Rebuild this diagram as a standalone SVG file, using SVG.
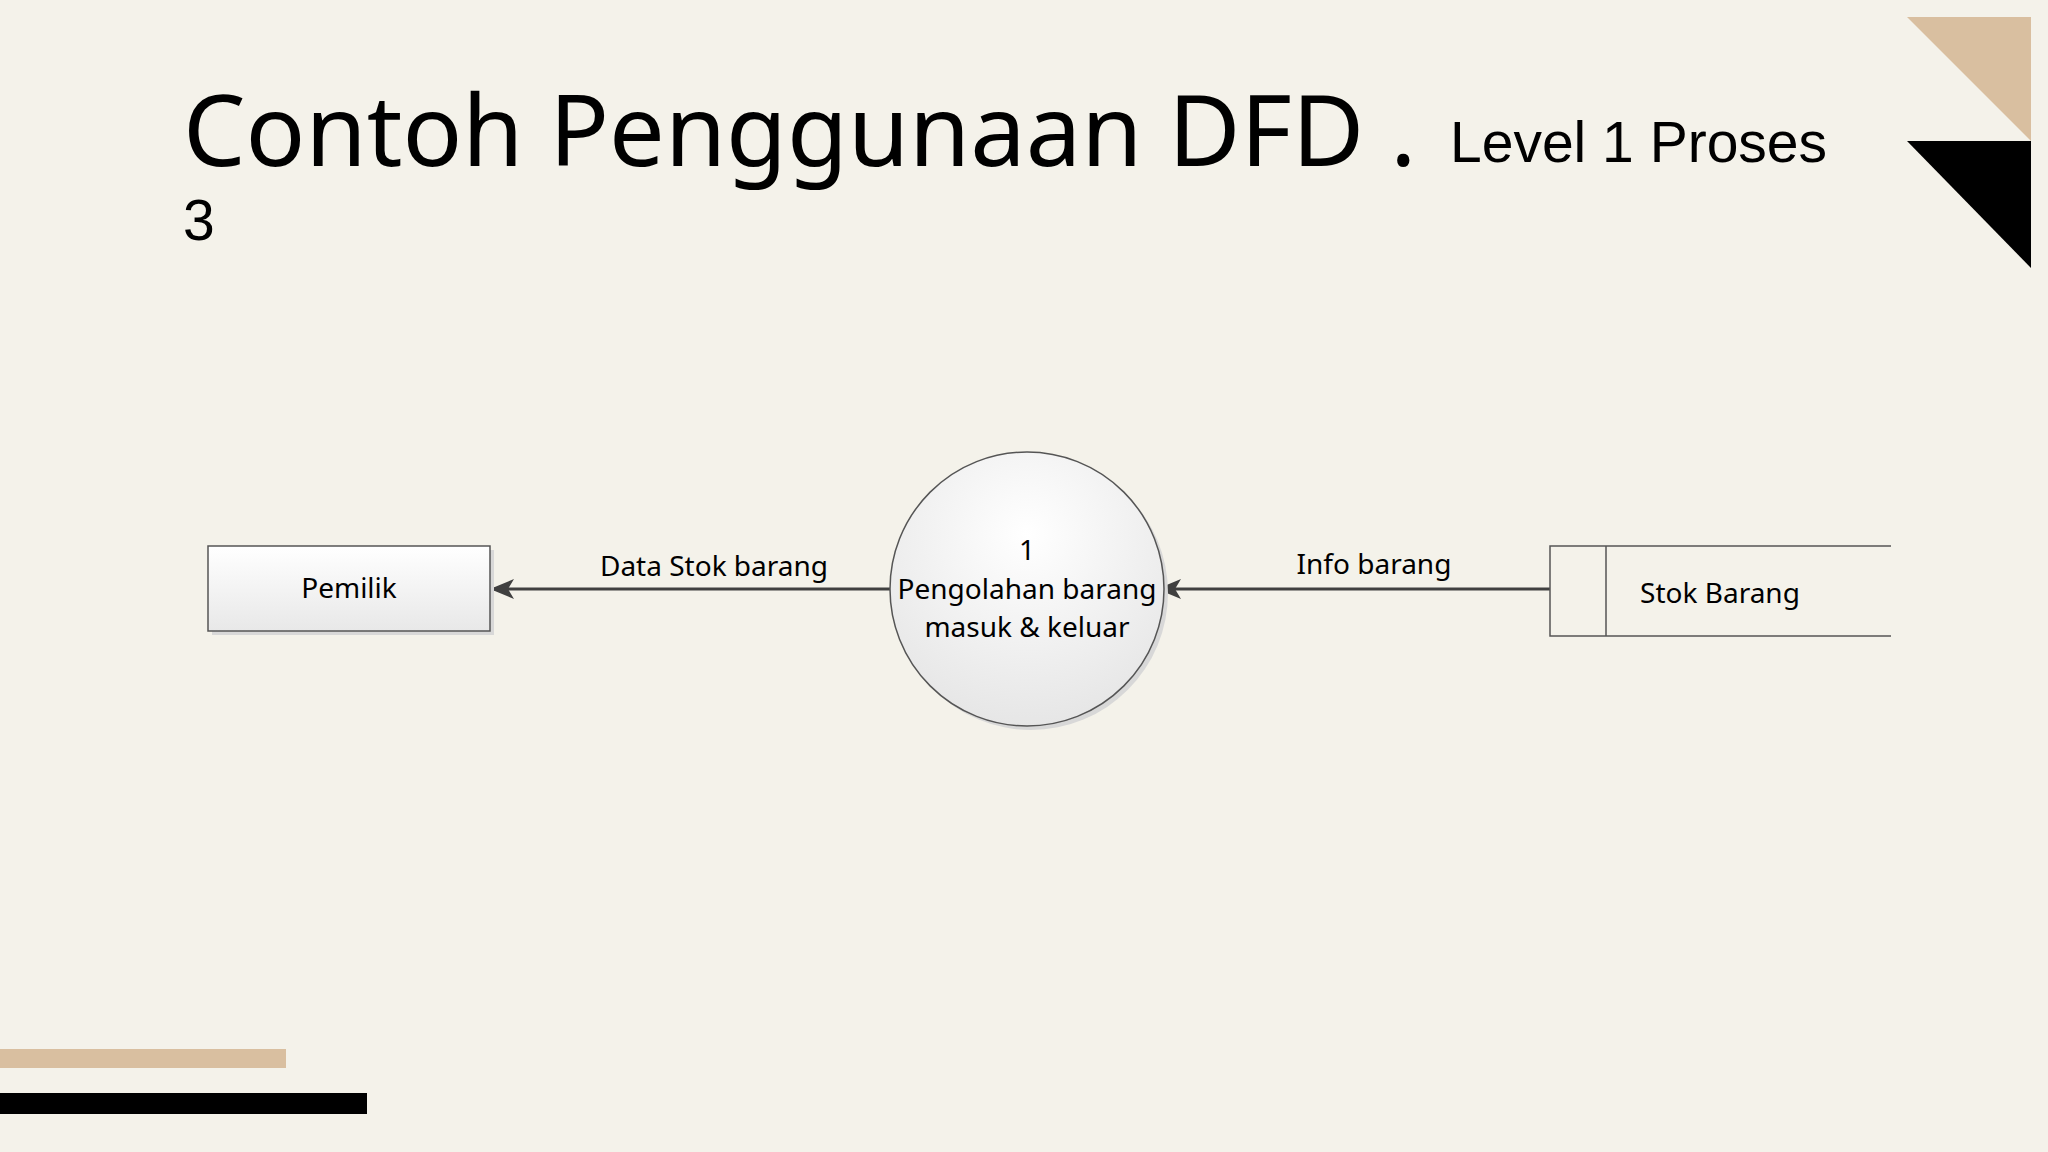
<svg xmlns="http://www.w3.org/2000/svg" width="2048" height="1152" viewBox="0 0 2048 1152">
<defs>
<linearGradient id="g" x1="0" y1="0" x2="0" y2="1"><stop offset="0" stop-color="#ffffff"/><stop offset="1" stop-color="#e8e8e8"/></linearGradient>
<radialGradient id="rg" cx="0.5" cy="0.3" r="0.7"><stop offset="0" stop-color="#ffffff"/><stop offset="1" stop-color="#e6e6e6"/></radialGradient>
<marker id="ah" markerWidth="24" markerHeight="24" refX="23" refY="12" orient="auto" markerUnits="userSpaceOnUse" viewBox="0 0 24 24"><path d="M0,2 L24,12 L0,22 L6,12 Z" fill="#404040"/></marker>
<style>
.lbl{font-family:"Noto Sans","Open Sans",sans-serif;font-size:28px;fill:#000;text-anchor:middle}
.ln{stroke:#404040;stroke-width:3;fill:none}
</style>
</defs>
<rect width="2048" height="1152" fill="#f4f2ea"/>
<polygon points="1907,17 2031,17 2031,141" fill="#d9bfa0"/>
<polygon points="1907,141 2031,141 2031,268" fill="#000"/>
<rect x="0" y="1049" width="286" height="19" fill="#d9bfa0"/>
<rect x="0" y="1093" width="367" height="21" fill="#000"/>
<text x="183" y="166" font-family="Noto Sans, Open Sans, sans-serif" font-size="99" fill="#000">Contoh Penggunaan DFD .</text>
<text x="1450" y="162" font-family="Liberation Sans, Arial, sans-serif" font-size="57" fill="#000">Level 1 Proses</text>
<text x="183" y="240" font-family="Liberation Sans, Arial, sans-serif" font-size="57" fill="#000">3</text>
<g id="connectors">
<line class="ln" x1="892" y1="589" x2="491" y2="589" marker-end="url(#ah)"/>
<text class="lbl" x="714" y="576">Data Stok barang</text>
<line class="ln" x1="1550" y1="589" x2="1158" y2="589" marker-end="url(#ah)"/>
<text class="lbl" x="1374" y="574">Info barang</text>
</g>
<g id="pemilik">
<rect x="212" y="550" width="282" height="85" fill="#d8d8d8"/>
<rect x="208" y="546" width="282" height="85" fill="url(#g)" stroke="#555" stroke-width="1.5"/>
<text class="lbl" x="349" y="598">Pemilik</text>
</g>
<g id="proses">
<circle cx="1031" cy="593" r="137" fill="#d8d8d8"/>
<circle cx="1027" cy="589" r="137" fill="url(#rg)" stroke="#555" stroke-width="1.5"/>
<text class="lbl" x="1027" y="560">1</text>
<text class="lbl" x="1027" y="599">Pengolahan barang</text>
<text class="lbl" x="1027" y="637">masuk &amp; keluar</text>
</g>
<g id="stok">
<rect x="1550" y="546" width="341" height="90" fill="#f4f2ea"/>
<path d="M1891,546 H1550 V636 H1891 M1606,546 V636" fill="none" stroke="#555" stroke-width="1.5"/>
<text class="lbl" x="1720" y="603">Stok Barang</text>
</g>
</svg>
